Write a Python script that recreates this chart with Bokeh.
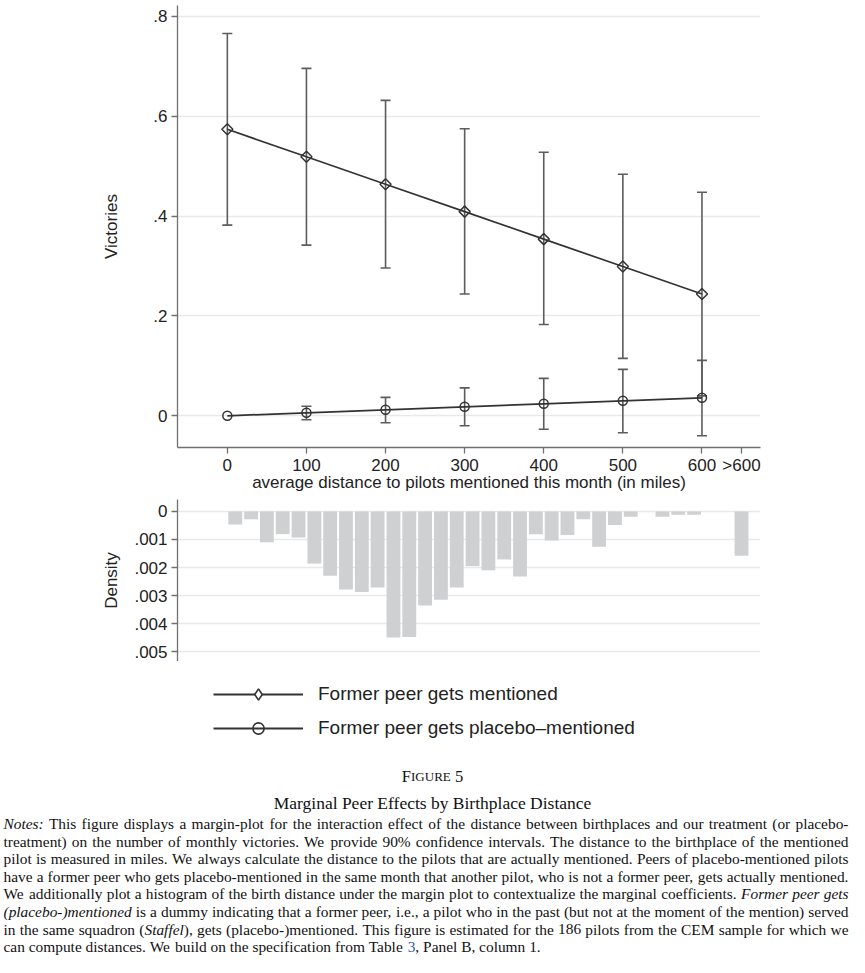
import numpy as np
from bokeh.plotting import figure
from bokeh.models import Range1d, FixedTicker, ColumnDataSource, Legend, LegendItem
from bokeh.layouts import column
from bokeh.embed import file_html
from bokeh.resources import INLINE
from bokeh.core.properties import value

# ---------------- data ----------------
distance = [0, 100, 200, 300, 400, 500, 600]
mentioned = [0.574, 0.519, 0.464, 0.409, 0.354, 0.299, 0.244]
mentioned_lo = [0.382, 0.342, 0.296, 0.244, 0.183, 0.115, 0.040]
mentioned_hi = [0.766, 0.696, 0.632, 0.575, 0.528, 0.484, 0.448]
placebo = [0.0, 0.006, 0.012, 0.018, 0.024, 0.030, 0.036]
placebo_lo = [0.0, -0.008, -0.014, -0.020, -0.027, -0.034, -0.040]
placebo_hi = [0.0, 0.019, 0.037, 0.056, 0.075, 0.093, 0.111]

x_ticks = [0, 100, 200, 300, 400, 500, 600, 650]
x_tick_labels = ["0", "100", "200", "300", "400", "500", "600", ">600"]
y_ticks = [0, 0.2, 0.4, 0.6, 0.8]
y_tick_labels = ["0", ".2", ".4", ".6", ".8"]

hist_centers = [10, 30, 50, 70, 90, 110, 130, 150, 170, 190, 210, 230, 250, 270, 290,
                310, 330, 350, 370, 390, 410, 430, 450, 470, 490, 510, 530, 550, 570, 590, 650]
hist_density = [0.00047, 0.00028, 0.00110, 0.00081, 0.00093, 0.00186, 0.00229, 0.00278,
                0.00287, 0.00271, 0.00449, 0.00448, 0.00335, 0.00315, 0.00271, 0.00195,
                0.00210, 0.00171, 0.00232, 0.00081, 0.00104, 0.00084, 0.00028, 0.00126,
                0.00048, 0.00019, 0.0, 0.00019, 0.00012, 0.00012, 0.00158]
hist_ticks = [0, 0.001, 0.002, 0.003, 0.004, 0.005]
hist_tick_labels = ["0", ".001", ".002", ".003", ".004", ".005"]

legend_labels = ["Former peer gets mentioned", "Former peer gets placebo\u2013mentioned"]
fig_label = [("F", 16.5), ("IGURE", 13.0), (" ", 16.5), ("5", 16.5)]
title = "Marginal Peer Effects by Birthplace Distance"
note_lines = [
    "_Notes:_ This figure displays a margin-plot for the interaction effect of the distance between birthplaces and our treatment (or placebo-",
    "treatment) on the number of monthly victories. We provide 90% confidence intervals. The distance to the birthplace of the mentioned",
    "pilot is measured in miles. We always calculate the distance to the pilots that are actually mentioned. Peers of placebo-mentioned pilots",
    "have a former peer who gets placebo-mentioned in the same month that another pilot, who is not a former peer, gets actually mentioned.",
    "We additionally plot a histogram of the birth distance under the margin plot to contextualize the marginal coefficients. _Former peer gets_",
    "_(placebo-)mentioned_ is a dummy indicating that a former peer, i.e., a pilot who in the past (but not at the moment of the mention) served",
    "in the same squadron (_Staffel_), gets (placebo-)mentioned. This figure is estimated for the 186 pilots from the CEM sample for which we",
    "can compute distances. We build on the specification from Table {3}, Panel B, column 1.",
]

# ---------------- styles ----------------
SANS = "Liberation Sans"
SERIF = "Liberation Serif"
AX = "#707070"
TXT = "#222222"
LINE = "#333333"
ERR = "#5c5c5c"
GRID = "#e9e9e9"

W = 849
X_RANGE = Range1d(-63, 674)


def style_axis(ax):
    ax.axis_line_color = AX
    ax.axis_line_width = 1.3
    ax.major_tick_line_color = AX
    ax.major_tick_line_width = 1.3
    ax.major_tick_out = 6
    ax.major_tick_in = 0
    ax.minor_tick_line_color = None
    ax.major_label_text_font = SANS
    ax.major_label_text_font_size = "17px"
    ax.major_label_text_color = TXT
    ax.axis_label_text_font = SANS
    ax.axis_label_text_font_size = "17px"
    ax.axis_label_text_font_style = "normal"
    ax.axis_label_text_color = TXT


# ---------------- top panel ----------------
p1 = figure(width=W, height=499, output_backend="svg", toolbar_location=None,
            x_range=X_RANGE, y_range=Range1d(-0.0635, 0.822),
            min_border_left=177, min_border_right=89, min_border_top=5, min_border_bottom=52)
p1.outline_line_color = None
p1.xgrid.visible = False
p1.ygrid.grid_line_color = GRID
p1.ygrid.grid_line_width = 1.5
p1.xaxis.ticker = FixedTicker(ticks=x_ticks)
p1.xaxis.major_label_overrides = {t: l for t, l in zip(x_ticks, x_tick_labels)}
p1.yaxis.ticker = FixedTicker(ticks=y_ticks)
p1.yaxis.major_label_overrides = {t: l for t, l in zip(y_ticks, y_tick_labels)}
p1.xaxis.axis_label = "average distance to pilots mentioned this month (in miles)"
p1.yaxis.axis_label = "Victories"
style_axis(p1.xaxis[0])
style_axis(p1.yaxis[0])
p1.xaxis.major_label_standoff = 2
p1.xaxis.axis_label_standoff = -5
p1.yaxis.major_label_standoff = 4
p1.yaxis.axis_label_standoff = 29

ment = ColumnDataSource(dict(x=distance, y=mentioned, lo=mentioned_lo, hi=mentioned_hi))
pl_mask = np.array(placebo_hi) > np.array(placebo_lo)
plac = ColumnDataSource(dict(x=distance, y=placebo, lo=placebo_lo, hi=placebo_hi))
plac_ci = ColumnDataSource(dict(x=np.array(distance)[pl_mask], lo=np.array(placebo_lo)[pl_mask],
                                hi=np.array(placebo_hi)[pl_mask]))

for src in (ment, plac_ci):
    p1.segment(x0="x", y0="lo", x1="x", y1="hi", source=src, line_color=ERR, line_width=1.6)
    p1.scatter(x="x", y="lo", source=src, marker="dash", size=10, line_color=ERR, line_width=1.6)
    p1.scatter(x="x", y="hi", source=src, marker="dash", size=10, line_color=ERR, line_width=1.6)

p1.line(x="x", y="y", source=ment, line_color=LINE, line_width=1.7)
p1.line(x="x", y="y", source=plac, line_color=LINE, line_width=1.7)
p1.scatter(x="x", y="y", source=ment, marker="square", angle=np.pi / 4, size=7.8,
           fill_alpha=0, line_color=LINE, line_width=1.5)
p1.scatter(x="x", y="y", source=plac, marker="circle", size=9,
           fill_alpha=0, line_color=LINE, line_width=1.5)

# ---------------- histogram panel ----------------
p2 = figure(width=W, height=162, output_backend="svg", toolbar_location=None,
            x_range=X_RANGE, y_range=Range1d(0.00535, -0.000425), x_axis_type=None,
            min_border_left=177, min_border_right=89, min_border_top=0, min_border_bottom=0)
p2.outline_line_color = None
p2.xgrid.visible = False
p2.ygrid.grid_line_color = GRID
p2.ygrid.grid_line_width = 1.5
p2.yaxis.ticker = FixedTicker(ticks=hist_ticks)
p2.yaxis.major_label_overrides = {t: l for t, l in zip(hist_ticks, hist_tick_labels)}
p2.yaxis.axis_label = "Density"
style_axis(p2.yaxis[0])
p2.yaxis.major_label_standoff = 4
p2.yaxis.axis_label_standoff = 10
hsrc = ColumnDataSource(dict(x=hist_centers, top=hist_density))
p2.vbar(x="x", top="top", bottom=0, width=17.5, source=hsrc, fill_color="#cfd0d1", line_color=None)

# ---------------- legend + caption panel ----------------
H3 = 296
p3 = figure(width=W, height=H3, output_backend="svg", toolbar_location=None,
            x_range=Range1d(0, W), y_range=Range1d(H3, 0), x_axis_type=None, y_axis_type=None,
            min_border_left=0, min_border_right=0, min_border_top=0, min_border_bottom=0)
p3.frame_align = False
p3.outline_line_color = None
p3.xgrid.visible = False
p3.ygrid.visible = False

blank = ColumnDataSource(dict(x=[np.nan], y=[np.nan]))
l1 = p3.line(x="x", y="y", source=blank, line_color=LINE, line_width=1.8)
m1 = p3.scatter(x="x", y="y", source=blank, marker="diamond", size=9,
                fill_color="white", line_color=LINE, line_width=1.6)
l2 = p3.line(x="x", y="y", source=blank, line_color=LINE, line_width=1.8)
m2 = p3.scatter(x="x", y="y", source=blank, marker="circle", size=9,
                fill_alpha=0, line_color=LINE, line_width=1.6)
legend = Legend(items=[LegendItem(label=legend_labels[0], renderers=[l1, m1]),
                       LegendItem(label=legend_labels[1], renderers=[l2, m2])],
                location=(213, 215), glyph_width=90, glyph_height=28, label_standoff=15,
                spacing=6, padding=0, margin=0, border_line_color=None,
                background_fill_alpha=0, label_text_font=SANS, label_text_font_size="19px",
                label_text_color=TXT, label_height=28)
p3.add_layout(legend)

# Times metrics (Liberation Serif is metric compatible)
ROMAN = dict(zip("abcdefghijklmnopqrstuvwxyz",
                 [444, 500, 444, 500, 444, 333, 500, 500, 278, 278, 500, 278, 778, 500, 500, 500, 500,
                  333, 389, 278, 500, 500, 722, 500, 500, 444]))
ROMAN.update(zip("ABCDEFGHIJKLMNOPQRSTUVWXYZ",
                 [722, 667, 667, 722, 611, 556, 722, 722, 333, 389, 722, 611, 889, 722, 722, 556, 722,
                  667, 556, 611, 722, 722, 944, 722, 722, 611]))
ROMAN.update({c: 500 for c in "0123456789"})
ROMAN.update({" ": 250, ".": 250, ",": 250, "(": 333, ")": 333, "-": 333, ":": 278, "%": 833, ";": 278})
ITALIC = dict(zip("abcdefghijklmnopqrstuvwxyz",
                  [500, 500, 444, 500, 444, 278, 500, 500, 278, 278, 444, 278, 722, 500, 500, 500, 500,
                   389, 389, 278, 500, 444, 667, 444, 444, 389]))
ITALIC.update(zip("ABCDEFGHIJKLMNOPQRSTUVWXYZ",
                  [611, 611, 667, 722, 611, 611, 722, 722, 333, 444, 667, 556, 833, 667, 722, 611, 722,
                   611, 500, 556, 722, 611, 833, 611, 556, 556]))
ITALIC.update({" ": 250, ".": 250, ",": 250, "(": 333, ")": 333, "-": 333, ":": 333})


def tw(s, style):
    tab = ITALIC if style == "i" else ROMAN
    return sum(tab.get(c, 500) for c in s) / 1000.0


def parse(line):
    words, cur, seg, style = [], [], "", "r"

    def flush():
        nonlocal seg
        if seg:
            cur.append((seg, style))
            seg = ""
    for ch in line:
        if ch == "_":
            flush()
            style = "r" if style == "i" else "i"
        elif ch == "{":
            flush()
            style = "b"
        elif ch == "}":
            flush()
            style = "r"
        elif ch == " ":
            flush()
            if cur:
                words.append(cur)
                cur = []
        else:
            seg += ch
    flush()
    if cur:
        words.append(cur)
    return words


parsed = [parse(l) for l in note_lines]
TEXT_W = 845.0
X0 = 3.0
needed = []
for words in parsed[:-1]:
    ww = sum(tw(s, st) for w in words for s, st in w)
    needed.append(ww + 0.2 * (len(words) - 1))
NOTE_SIZE = min(15.4, TEXT_W / max(needed))
BASE0 = 162.0
PITCH = 17.6

runs = {"r": dict(x=[], y=[], text=[]), "i": dict(x=[], y=[], text=[]), "b": dict(x=[], y=[], text=[])}
for li, words in enumerate(parsed):
    y = BASE0 + li * PITCH
    widths = [sum(tw(s, st) for s, st in w) * NOTE_SIZE for w in words]
    if li == len(parsed) - 1:
        gap = 0.25 * NOTE_SIZE
    else:
        gap = (TEXT_W - sum(widths)) / (len(words) - 1)
    x = X0
    for w, wd in zip(words, widths):
        xx = x
        for s, st in w:
            runs[st]["x"].append(xx)
            runs[st]["y"].append(y)
            runs[st]["text"].append(s)
            xx += tw(s, st) * NOTE_SIZE
        x += wd + gap

for st, d in runs.items():
    if not d["text"]:
        continue
    p3.text(x="x", y="y", text="text", source=ColumnDataSource(d),
            text_font=value(SERIF), text_font_size="%.2fpx" % NOTE_SIZE,
            text_font_style="italic" if st == "i" else "normal",
            text_color="#2a5db0" if st == "b" else "#111111",
            text_align="left", text_baseline="alphabetic")

# "FIGURE 5" in small caps
fx, fy, ft, fs = [], [], [], []
total = sum(tw(t, "r") * s for t, s in fig_label)
cx = 432.0 - total / 2.0
for t, s in fig_label:
    if t.strip():
        fx.append(cx)
        fy.append(114.5)
        ft.append(t)
        fs.append("%.1fpx" % s)
    cx += tw(t, "r") * s
p3.text(x="x", y="y", text="text", text_font_size="size",
        source=ColumnDataSource(dict(x=fx, y=fy, text=ft, size=fs)),
        text_font=value(SERIF), text_color="#111111", text_align="left", text_baseline="alphabetic")

p3.text(x=[432.0], y=[141.5], text=[title], text_font=value(SERIF), text_font_size="17.5px",
        text_color="#111111", text_align="center", text_baseline="alphabetic")

layout = column(p1, p2, p3, spacing=0)
open("out.html", "w").write(file_html(layout, INLINE))
